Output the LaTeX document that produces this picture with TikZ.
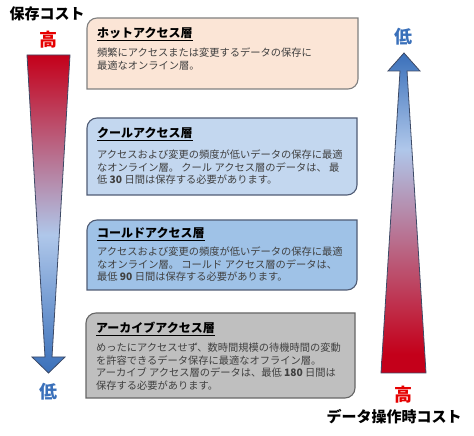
\documentclass[tikz,border=0pt]{standalone}
\usepackage{fontspec}
\setmainfont{Noto Sans CJK JP}

\definecolor{highred}{HTML}{C4001A}
\definecolor{paleblue}{HTML}{AFC7EA}
\definecolor{lowblue}{HTML}{3A70BA}
\definecolor{arrowedge}{HTML}{3D4A66}
\definecolor{hotfill}{HTML}{FBE5D6}
\definecolor{coolfill}{HTML}{C3D7EF}
\definecolor{coldfill}{HTML}{9FC2E7}
\definecolor{archivefill}{HTML}{BFBFBF}
\definecolor{bodygray}{HTML}{404040}

% colour runs for the two cost arrows
\pgfdeclareverticalshading{storageshade}{100bp}{color(0bp)=(lowblue); color(25bp)=(lowblue); color(46.7bp)=(paleblue); color(75bp)=(highred); color(100bp)=(highred)}
\pgfdeclareverticalshading{accessshade}{100bp}{color(0bp)=(highred); color(28bp)=(highred); color(60bp)=(paleblue); color(75bp)=(lowblue); color(100bp)=(lowblue)}

\begin{document}
\begin{tikzpicture}[x=1pt, y=1pt,
    tierbox/.style={line width=1.1pt},
    hotbox/.style={tierbox, draw=black!50, fill=hotfill},
    coolbox/.style={tierbox, draw=arrowedge!90, fill=coolfill},
    coldbox/.style={tierbox, draw=arrowedge!90, fill=coldfill},
    archivebox/.style={tierbox, draw=black!60, fill=archivefill},
    tiertitle/.style={anchor=base west, inner sep=0pt, font={\fontsize{12}{14}\selectfont\bfseries}},
    tierbody/.style={anchor=base west, inner sep=0pt, align=left, text=bodygray, font={\fontsize{10.25}{12.5}\selectfont}},
    costarrow/.style={draw=arrowedge, line width=0.8pt, shade},
    costtitle/.style={inner sep=0pt, font={\fontsize{15}{17}\selectfont\bfseries}},
    highlabel/.style={inner sep=0pt, text=red!90!black, font={\fontsize{18}{20}\selectfont\bfseries}},
    lowlabel/.style={inner sep=0pt, text=lowblue, font={\fontsize{18}{20}\selectfont\bfseries}}
]
\useasboundingbox (0,0) rectangle (474,436);

% Storage cost arrow (left, high to low)
\draw[costarrow, shading=storageshade] (27,381) -- (70,381) -- (52,79) -- (65,79)
    -- (48.5,63) -- (32,79) -- (45,79) -- cycle;
\node[costtitle] (storecost) at (47,422) {保存コスト};
\node[highlabel] (storehigh) at (48,396) {高};
\node[lowlabel] (storelow) at (48,44) {低};

% Access cost arrow (right, low to high)
\draw[costarrow, shading=accessshade] (381,63) -- (426,63) -- (407,365) -- (420,365)
    -- (404,383) -- (388,365) -- (400,365) -- cycle;
\node[lowlabel] (oplow) at (403,399) {低};
\node[highlabel] (ophigh) at (403,41) {高};
\node[costtitle] (opcost) at (394,19) {データ操作時コスト};

% Hot tier (body placed by its last line)
\draw[hotbox] (87,347) -- (87,408) arc[start angle=180, end angle=90, radius=10]
    -- (358,418) -- (358,357) arc[start angle=0, end angle=-90, radius=10] -- cycle;
\node[tiertitle] (hottitle) at (97,398.4) {\underline{ホットアクセス層}};
\node[tierbody] (hotbody) at (97,366.5) {頻繁にアクセスまたは変更するデータの保存に\\最適なオンライン層。};

% Cool tier
\draw[coolbox] (87,241) -- (87,308) arc[start angle=180, end angle=90, radius=10]
    -- (357,318) -- (357,251) arc[start angle=0, end angle=-90, radius=10] -- cycle;
\node[tiertitle] (cooltitle) at (97,298.4) {\underline{クールアクセス層}};
\node[tierbody] (coolbody) at (97,252) {アクセスおよび変更の頻度が低いデータの保存に最適\\なオンライン層。 クール アクセス層のデータは、 最\\低 \textbf{30} 日間は保存する必要があります。};

% Cold tier
\draw[coldbox] (87,146) -- (87,206) arc[start angle=180, end angle=90, radius=10]
    -- (357,216) -- (357,156) arc[start angle=0, end angle=-90, radius=10] -- cycle;
\node[tiertitle] (coldtitle) at (97,198.4) {\underline{コールドアクセス層}};
\node[tierbody] (coldbody) at (97,155) {アクセスおよび変更の頻度が低いデータの保存に最適\\なオンライン層。 コールド アクセス層のデータは、\\最低 \textbf{90} 日間は保存する必要があります。};

% Archive tier
\draw[archivebox] (86,38) -- (86,113) arc[start angle=180, end angle=90, radius=10]
    -- (355,123) -- (355,48) arc[start angle=0, end angle=-90, radius=10] -- cycle;
\node[tiertitle] (archivetitle) at (96,103.4) {\underline{アーカイブアクセス層}};
\node[tierbody] (archivebody) at (96,46.5) {めったにアクセスせず、数時間規模の待機時間の変動\\を許容できるデータ保存に最適なオフライン層。\\アーカイブ アクセス層のデータは、最低 \textbf{180} 日間は\\保存する必要があります。};

\end{tikzpicture}
\end{document}
